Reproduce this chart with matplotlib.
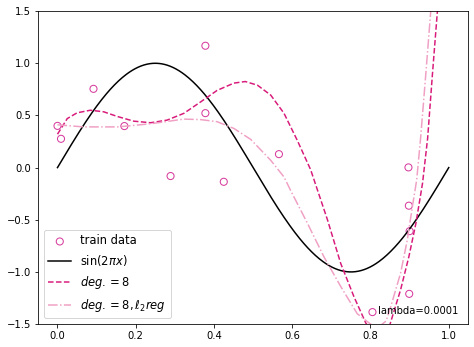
import numpy as np
import matplotlib
matplotlib.use('Agg')
import matplotlib.pyplot as plt

# training samples
x_train = [0.000, 0.009, 0.092, 0.171, 0.289, 0.378, 0.378, 0.425, 0.566,
           0.805, 0.897, 0.898, 0.900, 0.899]
y_train = [0.400, 0.276, 0.755, 0.398, -0.081, 1.168, 0.522, -0.136, 0.129,
           -1.385, 0.002, -0.365, -0.609, -1.210]

# degree 8 fit, plain least squares
x_deg8 = [0.0, 0.025, 0.05, 0.084, 0.118, 0.153, 0.195, 0.238, 0.28, 0.323,
          0.366, 0.408, 0.451, 0.48, 0.511, 0.545, 0.579, 0.613, 0.647, 0.69,
          0.724, 0.758, 0.788, 0.82, 0.85, 0.877, 0.898, 0.916, 0.933, 0.946,
          0.958, 0.971, 1.0]
y_deg8 = [0.32, 0.47, 0.525, 0.55, 0.535, 0.49, 0.445, 0.43, 0.455, 0.52,
          0.63, 0.74, 0.81, 0.825, 0.79, 0.695, 0.52, 0.26, -0.02, -0.50,
          -0.92, -1.24, -1.49, -1.65, -1.5, -1.17, -0.855, -0.535, -0.15, 0.28,
          0.88, 1.5, 4.0]

# degree 8 fit with l2 penalty
x_reg = [0.0, 0.067, 0.153, 0.238, 0.323, 0.366, 0.408, 0.451, 0.494, 0.545,
         0.579, 0.596, 0.639, 0.681, 0.724, 0.766, 0.80, 0.82, 0.84, 0.852,
         0.877, 0.894, 0.907, 0.918, 0.928, 0.941, 0.954, 1.0]
y_reg = [0.41, 0.39, 0.39, 0.42, 0.465, 0.46, 0.44, 0.375, 0.27, 0.07,
         -0.09, -0.22, -0.535, -0.855, -1.14, -1.40, -1.50, -1.53, -1.47, -1.33,
         -1.01, -0.695, -0.375, -0.12, 0.28, 0.88, 1.5, 4.5]

lam = 0.0001

xs = np.linspace(0, 1, 400)

plt.figure(figsize=(474 / 72, 347 / 72), dpi=72)
plt.scatter(x_train, y_train, facecolor='none', edgecolor='#d6389c', s=50, label='train data')
plt.plot(xs, np.sin(2 * np.pi * xs), c='k', lw=1.5, label=r'$\sin(2\pi x)$')
plt.plot(x_deg8, y_deg8, c='#d81b7a', ls='--', lw=1.5, label=r'$deg.=8$')
plt.plot(x_reg, y_reg, c='#f0a0c4', ls='-.', lw=1.5, label=r'$deg.=8, \ell_2 reg$')
plt.ylim(-1.5, 1.5)
plt.text(0.82, -1.4, 'lambda={}'.format(lam))
plt.legend(loc='lower left', fontsize=11.5)
plt.subplots_adjust(left=0.08, right=0.988, bottom=0.066, top=0.968)
plt.savefig('out.png')
